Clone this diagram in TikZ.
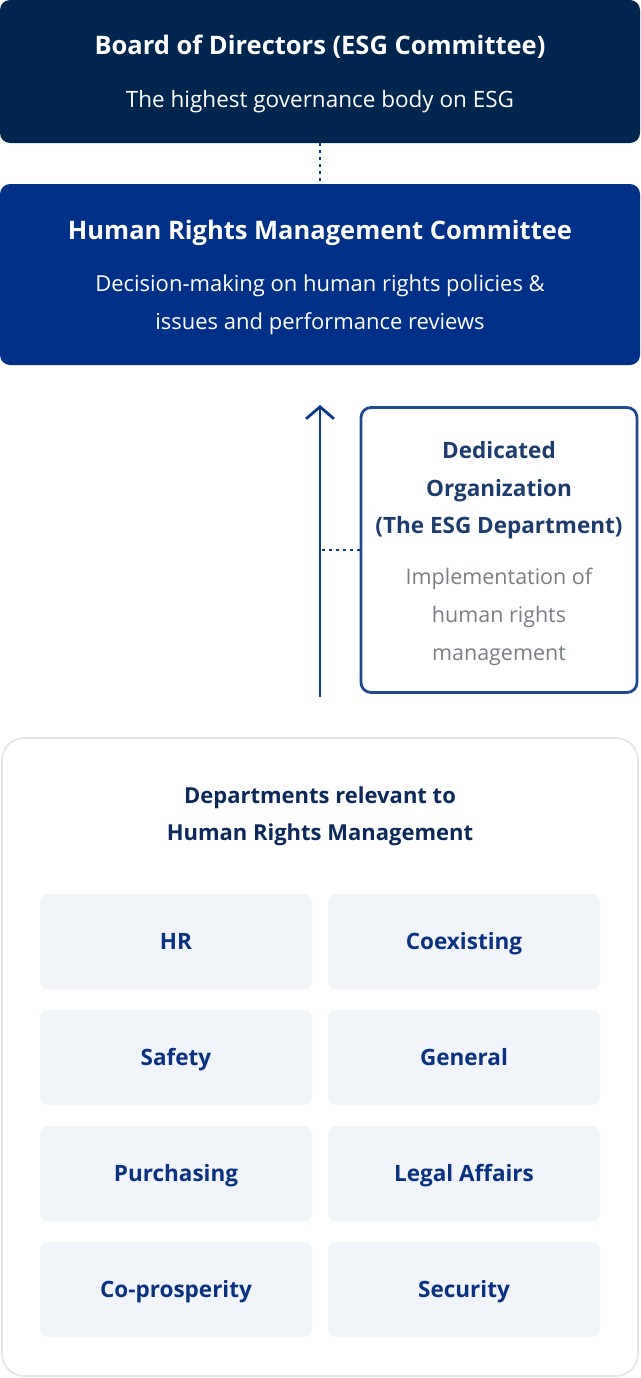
\documentclass[tikz,border=0pt]{standalone}
\usepackage{fontspec}
\setmainfont{Open Sans}
\usetikzlibrary{arrows.meta,positioning,calc}

\definecolor{boardnavy}{HTML}{00264F}
\definecolor{cmteblue}{HTML}{003087}
\definecolor{linkblue}{HTML}{0A3A8A}
\definecolor{dedborder}{HTML}{1F4A8F}
\definecolor{dedtext}{HTML}{1D3C6E}
\definecolor{impgray}{HTML}{7A7F87}
\definecolor{panelgray}{HTML}{E2E4E7}
\definecolor{cellfill}{HTML}{F1F4F9}
\definecolor{celltext}{HTML}{0A3282}
\definecolor{deptnavy}{HTML}{0B2A5B}

\tikzset{
    govbox/.style={rounded corners=10pt, inner sep=0pt, minimum width=640pt},
    govtitle/.style={text=white, font=\fontsize{25.5}{28}\selectfont\bfseries, text height=18pt, text depth=0pt},
    govtext/.style={text=white, font=\fontsize{22}{38}\selectfont, align=center},
    deptcell/.style={fill=cellfill, rounded corners=8pt, minimum width=272pt, minimum height=95pt,
        inner sep=0pt, text=celltext, font=\fontsize{22.5}{24}\selectfont\bfseries,
        text height=16pt, text depth=0pt},
    dotlink/.style={linkblue, line width=2.6pt, dash pattern=on 2.6pt off 4.4pt, line cap=butt},
}

\begin{document}
\begin{tikzpicture}[x=1pt,y=-1pt]
    \useasboundingbox (0,0) rectangle (640,1378);

    % governance boxes
    \node[govbox, fill=boardnavy, minimum height=143pt] (board) at (320,71.5) {};
    \node[govbox, fill=cmteblue, minimum height=181pt] (hrmc) at (320,274.5) {};
    \node[govtitle] (boardtitle) at (320,46) {Board of Directors (ESG Committee)};
    \node[govtext, font=\fontsize{22.5}{38}\selectfont] (boardtext) at (320,102) {The highest governance body on ESG};
    \node[govtitle] (hrmctitle) at (320,230) {Human Rights Management Committee};
    \node[govtext] (hrmctext) at (320,305) {Decision-making on human rights policies \&\\issues and performance reviews};

    \draw[dotlink] (board.south) -- (hrmc.north);

    % dedicated organization
    \node[draw=dedborder, line width=2.8pt, rounded corners=10pt, fill=white,
        minimum width=276pt, minimum height=285pt, inner sep=0pt] (dedicated) at (499,550) {};
    \node[text=dedtext, align=center, font=\fontsize{22.5}{37.5}\selectfont\bfseries] (dedtitle) at (499,490.5)
        {Dedicated\\Organization\\(The ESG Department)};
    \node[text=impgray, align=center, font=\fontsize{21.5}{38}\selectfont] (dedtext) at (499,617)
        {Implementation of\\human rights\\management};

    \coordinate (arrowfoot) at (320,697);
    \coordinate (arrowtip) at (320,405);
    \draw[linkblue, line width=2.8pt, -{Straight Barb[length=12pt, width=28pt, line width=2.8pt]}] (arrowfoot) -- (arrowtip);
    \draw[dotlink] (dedicated.west) -- (arrowfoot |- dedicated.west);

    % departments panel
    \node[draw=panelgray, line width=1.6pt, rounded corners=22pt, fill=white,
        minimum width=636pt, minimum height=638pt, inner sep=0pt] (panel) at (320,1057) {};
    \node[text=deptnavy, align=center, font=\fontsize{22}{37}\selectfont\bfseries] (paneltitle) at (320,816.5)
        {Departments relevant to\\Human Rights Management};

    \foreach \dept/\label/\x/\y in {hr/HR/176/941.5, coex/Coexisting/464/941.5,
        safety/Safety/176/1057.5, general/General/464/1057.5,
        purch/Purchasing/176/1173.5, legal/Legal Affairs/464/1173.5,
        cop/Co-prosperity/176/1289.5, security/Security/464/1289.5} {
        \node[deptcell] (\dept) at (\x,\y) {\label};
    }
\end{tikzpicture}
\end{document}
